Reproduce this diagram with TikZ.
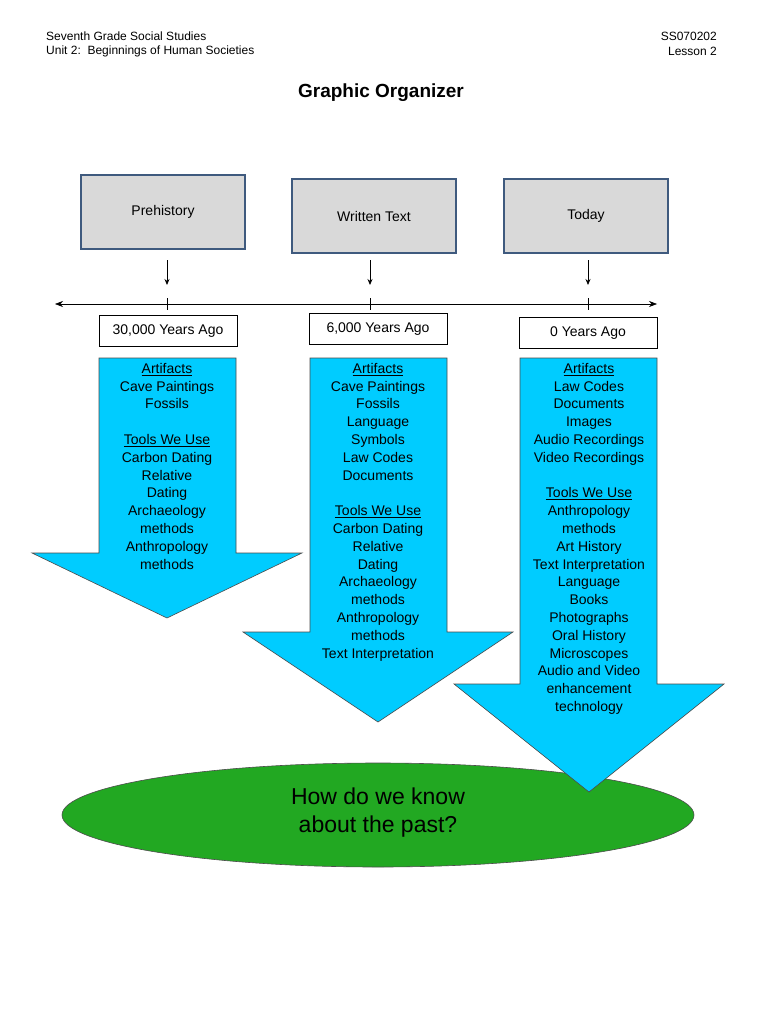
\documentclass[tikz,border=0pt]{standalone}
\usepackage{fontspec}
\setmainfont{Liberation Sans}
\usetikzlibrary{arrows.meta}
\definecolor{boxgray}{HTML}{D9D9D9}
\definecolor{boxedge}{HTML}{3F5A7E}
\definecolor{cyanarrow}{HTML}{00CCFF}
\definecolor{ovalgreen}{HTML}{22A822}
\begin{document}
\begin{tikzpicture}[x=1pt,y=-1pt,
  hdr/.style={font=\fontsize{12}{14}\selectfont,inner sep=0pt},
  era/.style={draw=boxedge,line width=1.8pt,fill=boxgray,minimum width=164pt,minimum height=74pt,font=\fontsize{14}{16}\selectfont},
  date/.style={draw=black,line width=0.8pt,fill=white,minimum width=138pt,minimum height=31pt,font=\fontsize{14}{16}\selectfont},
  bigarrow/.style={fill=cyanarrow,draw=black!70,line width=0.6pt},
  list/.style={anchor=north,align=center,inner sep=0pt,font=\fontsize{14}{17.8}\selectfont},
  small/.style={-{Stealth[length=6pt,width=5pt]},line width=0.8pt}]
\useasboundingbox (0,0) rectangle (768,1024);
\fill[white] (0,0) rectangle (768,1024);
\node[hdr,anchor=west] (h1) at (46,36) {Seventh Grade Social Studies};
\node[hdr,anchor=west] (h2) at (46,51) {Unit 2:\ \ Beginnings of Human Societies};
\node[hdr,anchor=east] (h3) at (717,36) {SS070202};
\node[hdr,anchor=east] (h4) at (717,51) {Lesson 2};
\node[font=\bfseries\fontsize{19}{22}\selectfont] (title) at (381,93) {Graphic Organizer};

\node[era] (e1) at (163,212) {Prehistory};
\node[era] (e2) at (374,216) {Written Text};
\node[era] (e3) at (586,216) {Today};

\coordinate (a1) at (167,260); \coordinate (b1) at (167,285);
\coordinate (a2) at (370,260); \coordinate (b2) at (370,285);
\coordinate (a3) at (588,260); \coordinate (b3) at (588,285);
\draw[small] (a1) -- (b1);
\draw[small] (a2) -- (b2);
\draw[small] (a3) -- (b3);

\coordinate (tl) at (55,304); \coordinate (tr) at (657,304);
\draw[{Stealth[length=8pt,width=6pt]}-{Stealth[length=8pt,width=6pt]},line width=0.6pt] (tl) -- (tr);
\foreach \x in {167,370,588} \draw[line width=0.6pt] (\x,298) -- (\x,310);

\node[date] (d1) at (168,331) {30,000 Years Ago};
\node[date] (d2) at (378,329) {6,000 Years Ago};
\node[date] (d3) at (588,333) {0 Years Ago};

\draw[bigarrow] (99,358) -- (236,358) -- (236,553) -- (302,553) -- (167,618) -- (32,553) -- (99,553) -- cycle;
\draw[bigarrow] (310,358) -- (447,358) -- (447,632) -- (513,632) -- (378,722) -- (243,632) -- (310,632) -- cycle;
\draw[fill=ovalgreen,draw=black!70,line width=0.6pt] (378,815) ellipse [x radius=316, y radius=52];
\node[align=center,font=\fontsize{23}{28}\selectfont] (q) at (378,813) {How do we know\\about the past?};
\draw[bigarrow] (520,358) -- (657,358) -- (657,684) -- (724,684) -- (589,792) -- (454,684) -- (520,684) -- cycle;

\node[list] (l1) at (167,363) {\underline{Artifacts}\\Cave Paintings\\Fossils\\[17.8pt]\underline{Tools We Use}\\Carbon Dating\\Relative\\Dating\\Archaeology\\methods\\Anthropology\\methods};
\node[list] (l2) at (378,363) {\underline{Artifacts}\\Cave Paintings\\Fossils\\Language\\Symbols\\Law Codes\\Documents\\[17.8pt]\underline{Tools We Use}\\Carbon Dating\\Relative\\Dating\\Archaeology\\methods\\Anthropology\\methods\\Text Interpretation};
\node[list] (l3) at (589,363) {\underline{Artifacts}\\Law Codes\\Documents\\Images\\Audio Recordings\\Video Recordings\\[17.8pt]\underline{Tools We Use}\\Anthropology\\methods\\Art History\\Text Interpretation\\Language\\Books\\Photographs\\Oral History\\Microscopes\\Audio and Video\\enhancement\\technology};
\end{tikzpicture}
\end{document}
